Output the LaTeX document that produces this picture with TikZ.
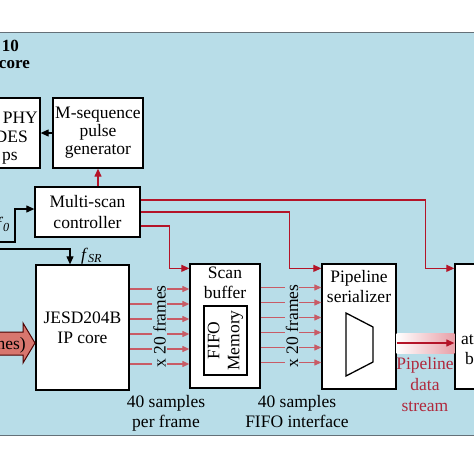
\documentclass[tikz,border=0pt]{standalone}
\usepackage{fontspec}
\setmainfont{Liberation Serif}
\usetikzlibrary{arrows.meta,calc}
\definecolor{bgblue}{RGB}{184,221,232}
\definecolor{ctrlred}{RGB}{180,20,40}
\definecolor{framered}{RGB}{200,92,102}
\definecolor{txtred}{RGB}{176,40,60}
\definecolor{lanefill}{RGB}{216,118,110}
\definecolor{bandpink}{RGB}{232,160,168}
\definecolor{edgegray}{RGB}{100,112,120}
\begin{document}
\begin{tikzpicture}[x=1pt,y=-1pt,
 box/.style={draw=black,fill=white,line width=1.3pt,inner sep=0pt,align=center,font=\fontsize{17.5}{20}\selectfont},
 lbl/.style={font=\fontsize{17.5}{20}\selectfont,align=center,inner sep=0pt},
 ctrl/.style={draw=ctrlred,line width=1.2pt,-{Triangle[length=8pt,width=7pt]}},
 frm/.style={draw=framered,line width=1.2pt,-{Triangle[length=7pt,width=6pt]}},
 blk/.style={draw=black,line width=1.1pt,-{Triangle[length=8pt,width=7pt]}},
 framelbl/.style={lbl,rotate=90,fill=bgblue,inner xsep=2pt,inner ysep=1pt},
]
\useasboundingbox (0,0) rectangle (474,474);
\fill[bgblue] (-2,32) rectangle (476,435);
\draw[edgegray,line width=1pt] (-2,32) -- (476,32) (-2,435) -- (476,435);

% title
\node[lbl,font=\fontsize{17}{20}\selectfont\bfseries,anchor=base east] (t1) at (19,51) {10};
\node[lbl,font=\fontsize{17}{20}\selectfont\bfseries,anchor=base east] (t2) at (30,68) {core};

% PHY box (cut off)
\node[box,minimum width=100pt,minimum height=70pt] (phy) at (-10,133) {};
\node[lbl,anchor=base east] (p1) at (38,123) {PHY};
\node[lbl,anchor=base east] (p2) at (28,142) {DES};
\node[lbl,anchor=base east] (p3) at (18,160) {ps};

% M-sequence
\node[box,minimum width=90pt,minimum height=70pt,font=\fontsize{17.5}{18}\selectfont] (mseq) at (98,133) {M-sequence\\pulse\\generator};

% Multi-scan controller
\node[box,minimum width=105pt,minimum height=50pt,font=\fontsize{17.5}{21}\selectfont] (msc) at (87.5,212) {Multi-scan\\controller};

% JESD
\node[box,minimum width=93pt,minimum height=125pt] (jesd) at (82.5,327.5) {JESD204B\\IP core};

% Scan buffer
\node[box,minimum width=70pt,minimum height=124pt] (scan) at (225,326) {};
\node[lbl] (scanlbl) at (225,283) {Scan\\buffer};
\node[box,line width=1.1pt,rotate=90,minimum width=69pt,minimum height=43pt] (fifo) at (225.5,340.5) {FIFO\\Memory};

% Pipeline serializer
\node[box,minimum width=74pt,minimum height=125pt] (pipe) at (359,326.5) {};
\node[lbl] (pipelbl) at (359,287) {Pipeline\\serializer};
\draw[line width=1.3pt,line join=miter] (346,313) -- (373,327) -- (373,362) -- (346,376) -- cycle;

% right box (cut off)
\node[box,minimum width=70pt,minimum height=125pt] (rbox) at (490,326.5) {};
\node[lbl,anchor=base west] (r1) at (461,344) {at};
\node[lbl,anchor=base west] (r2) at (465,364) {b};

% lanes arrow
\filldraw[fill=lanefill,draw=black!70!red,line width=1pt,line join=miter]
  (-5,332) -- (23,332) -- (23,323) -- (35,343) -- (23,363) -- (23,355) -- (-5,355) -- cycle;
\node[lbl,anchor=base east] (lanes) at (26,349) {(lanes)};

% control connections
\draw[blk] (mseq.west) -- (phy.east);
\draw[ctrl] (mseq.south |- msc.north) -- (mseq.south);
\draw[ctrl] ([yshift=12pt]msc.east) -- ++(285,0) |- ([yshift=-5pt]rbox.north west);
\draw[ctrl] (msc.east) -- ++(149,0) |- ([yshift=-5pt]pipe.north west);
\draw[ctrl] ([yshift=-14pt]msc.east) -- ++(29,0) |- ([yshift=-5pt]scan.north west);

% clock inputs
\coordinate (f0in) at (-5,242);
\coordinate (fsrin) at (-5,249);
\draw[blk] (f0in) -- ++(20,0) |- ([yshift=3pt]msc.west);
\node[lbl,anchor=base east] (f0) at (10,229) {\textit{f}\textsubscript{\textit{0}}};
\draw[blk] (fsrin) -| ([xshift=-12.5pt]jesd.north);
\node[lbl,anchor=base west] (fsr) at (81,260) {\textit{f}\textsubscript{\textit{SR}}};

% frame arrows
\foreach \d in {38.5,23.5,8.5,-6.5,-21.5,-36.5}{
  \draw[frm] ([yshift=\d pt]jesd.east) -- ([yshift=\d pt]jesd.east -| scan.west);
  \draw[frm] ([yshift=\d pt]scan.east) -- ([yshift=\d pt]scan.east -| pipe.west);
}
\node[framelbl] (fl1) at (159.5,326.5) {x 20 frames};
\node[framelbl] (fl2) at (292,326) {x 20 frames};
\node[lbl] (s1) at (166,413) {40 samples\\per frame};
\node[lbl] (s2) at (297,412) {40 samples\\FIFO interface};

% pipeline data stream
\shade[left color=white,right color=bandpink] (pipe.east |- 0,333) rectangle (rbox.west |- 0,353);
\draw[ctrl] ([yshift=-16.5pt]pipe.east) -- ([yshift=-16.5pt]pipe.east -| rbox.west);
\node[lbl,text=txtred,font=\fontsize{17.5}{21}\selectfont] (pds) at (425,385) {Pipeline\\data\\stream};
\end{tikzpicture}
\end{document}
